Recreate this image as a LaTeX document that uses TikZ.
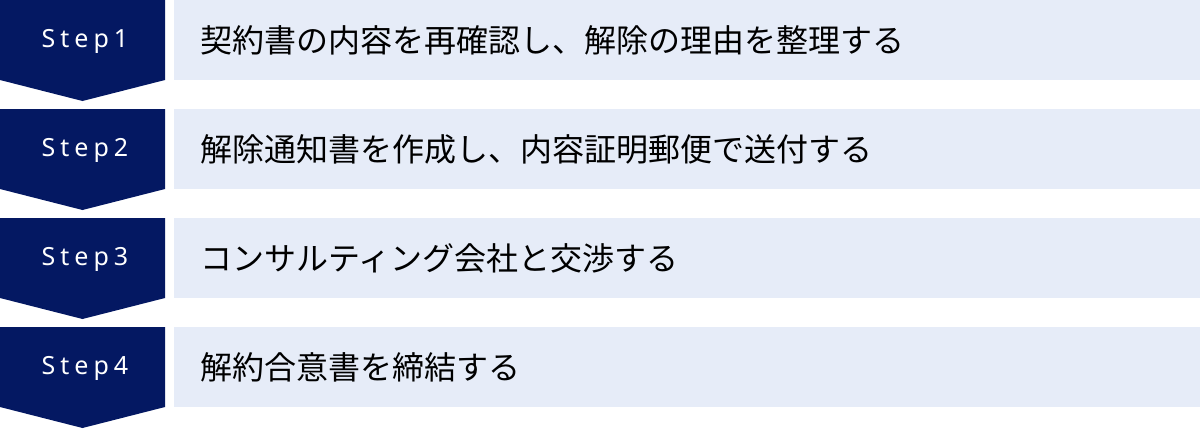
\documentclass[tikz,border=0pt]{standalone}
\usepackage{fontspec}
\setmainfont{Noto Sans CJK JP}
\newfontfamily\steplabelfont[LetterSpace=20]{Noto Sans}
\definecolor{navy}{HTML}{041862}
\definecolor{pale}{HTML}{E6ECF8}
\tikzset{
  chev/.style={fill=navy, draw=none},
  steplbl/.style={text=white, inner sep=0pt, anchor=base, font=\steplabelfont\fontsize{25}{29}\selectfont},
  bar/.style={fill=pale, draw=none, inner sep=0pt, anchor=north west, minimum width=1026pt, minimum height=80pt},
  bartxt/.style={text=black, inner sep=0pt, anchor=base west, font=\fontsize{32}{38}\selectfont},
}
\begin{document}
\begin{tikzpicture}[x=1pt,y=-1pt]
\useasboundingbox (0,0) rectangle (1200,429);
\foreach \i/\txt in {1/契約書の内容を再確認し、解除の理由を整理する,
                     2/解除通知書を作成し、内容証明郵便で送付する,
                     3/コンサルティング会社と交渉する,
                     4/解約合意書を締結する}{
  \pgfmathsetmacro{\yo}{109*(\i-1)}
  \fill[chev] (0,\yo) -- (165,\yo) -- (165,\yo+80) -- (82.5,\yo+101) -- (0,\yo+80) -- cycle;
  \node[steplbl] (s\i) at (85,\yo+47.3) {Step\i};
  \node[bar] (b\i) at (174,\yo) {};
  \node[bartxt] (t\i) at (200,\yo+52) {\txt};
}
\end{tikzpicture}
\end{document}
